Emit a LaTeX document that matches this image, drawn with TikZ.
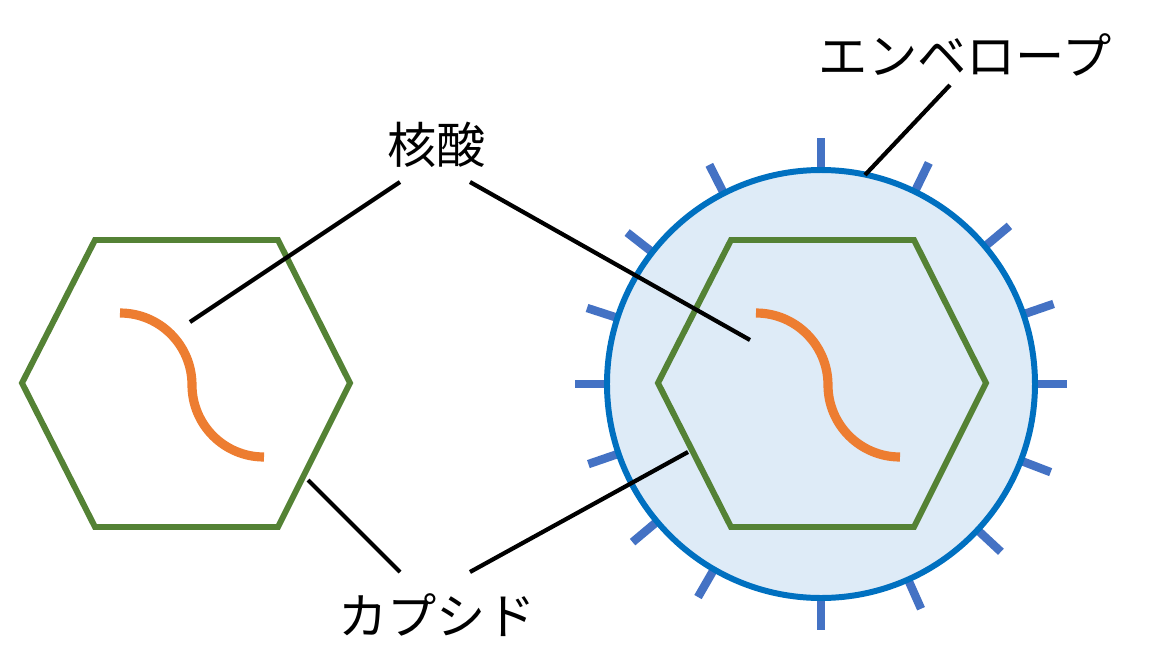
\documentclass[tikz,border=0pt]{standalone}
\usepackage{fontspec}
\usetikzlibrary{calc}
\setmainfont{Noto Sans CJK JP}
\definecolor{capsidgreen}{HTML}{548235}
\definecolor{acidorange}{HTML}{ED7D31}
\definecolor{envblue}{HTML}{0070C0}
\definecolor{envfill}{HTML}{DEEBF7}
\definecolor{spikeblue}{HTML}{4472C4}
\tikzset{
  capsid/.style = {draw = capsidgreen, line width = 1.7pt},
  acid/.style = {draw = acidorange, line width = 2.6pt},
  pointer/.style = {draw = black, line width = 1.2pt},
  label/.style = {font = \fontsize{14}{17}\selectfont, inner sep = 0pt}
}
\begin{document}
\begin{tikzpicture}[x = 0.01cm, y = -0.01cm]
  \useasboundingbox (0, 0) rectangle (1150, 666);
  % envelope
  \def\envradius{214}
  \def\spikelen{32}
  \coordinate (envc) at (821, 384);
  \foreach \a in {0, 19, 40, 64, 90, 117, 142, 162, 180, 199, 220, 240, 270, 294, 317, 339}
    \draw[spikeblue, line width = 2.4pt] ($(envc) + (-\a:\envradius)$) -- ($(envc) + (-\a:{\envradius + \spikelen})$);
  \draw[envblue, fill = envfill, line width = 1.7pt] (envc) circle (\envradius);
  % capsids
  \foreach \dx/\nm in {0/L, 636/R} {
    \begin{scope}[xshift = \dx * 0.01cm]
      \draw[capsid] (22, 383) -- (95, 240) -- (278, 240) -- (350, 383) -- (278, 527) -- (95, 527) -- cycle;
      \draw[acid] (120, 313) arc[start angle = -90, end angle = 0, radius = 72]
        arc[start angle = 180, end angle = 90, radius = 72];
      \coordinate (acid\nm) at (190, 322);
    \end{scope}
  }
  % labels
  \node[label] (nucleic) at (437, 145) {核酸};
  \node[label] (envelope) at (965, 55) {エンベロープ};
  \node[label] (capsid) at (437, 615) {カプシド};
  \coordinate (acidR) at (750, 340);
  \coordinate (envpt) at (865, 175);
  \coordinate (capL) at (308, 480);
  \coordinate (capR) at (688, 452);
  \draw[pointer] (400, 182) -- (acidL);
  \draw[pointer] (470, 182) -- (acidR);
  \draw[pointer] (950, 85) -- (envpt);
  \draw[pointer] (400, 572) -- (capL);
  \draw[pointer] (470, 572) -- (capR);
\end{tikzpicture}
\end{document}
